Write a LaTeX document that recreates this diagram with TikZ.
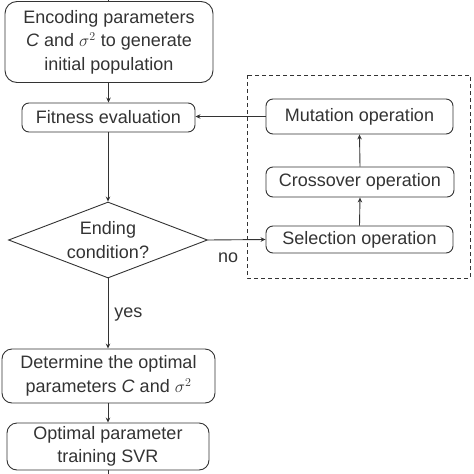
\documentclass[tikz,border=0pt]{standalone}
\usepackage{fontspec}
\setmainfont{Liberation Sans}
\usetikzlibrary{shapes.geometric,arrows.meta}
\definecolor{ink}{HTML}{333333}
\begin{document}
\begin{tikzpicture}[x=1pt,y=-1pt,
  every node/.style={font=\fontsize{18}{23.5}\selectfont, text=ink},
  box/.style={draw=ink, line width=0.9pt, rounded corners=7pt, align=center, inner sep=0pt},
  cond/.style={draw=ink, line width=0.9pt, diamond, aspect=2.6, inner sep=0pt, align=center, minimum width=199pt, minimum height=76pt},
  conn/.style={draw=ink, line width=0.9pt},
  arr/.style={conn, -{Stealth[length=5pt,width=4.5pt]}}
]
\path[use as bounding box] (0,0) rectangle (474,474);

\node[box, minimum width=208pt, minimum height=81pt, rounded corners=12pt] (init) at (109,42)
  {Encoding parameters\\ \textit{C} and $\sigma^2$ to generate\\ initial population};
\node[box, minimum width=173pt, minimum height=29pt] (fit) at (108.5,117.5) {Fitness evaluation};
\node[cond] (end) at (108,240) {Ending\\ condition?};
\node[box, minimum width=213pt, minimum height=54pt, rounded corners=10pt] (det) at (108.5,376)
  {Determine the optimal\\ parameters \textit{C} and $\sigma^2$};
\node[box, minimum width=202pt, minimum height=47pt, rounded corners=10pt] (opt) at (108,446.5)
  {Optimal parameter\\ training SVR};

\node[box, minimum width=187pt, minimum height=35pt] (mut) at (359.5,116.5) {Mutation operation};
\node[box, minimum width=188pt, minimum height=30pt] (cro) at (360,182) {Crossover operation};
\node[box, minimum width=187pt, minimum height=27pt] (sel) at (359.5,239.5) {Selection operation};

\draw[ink, line width=0.9pt, dash pattern=on 4pt off 3pt] (247,75) rectangle (470,278);

\coordinate (topstub) at (108,0);
\coordinate (botstub) at (108,474);
\draw[conn] (topstub) -- (init.north -| topstub);
\draw[conn] (opt.south -| botstub) -- (botstub);

\draw[arr] (init.south -| fit.north) -- (fit.north);
\draw[arr] (fit.south -| end.north) -- (end.north);
\draw[arr] (end.south) -- (det.north -| end.south) node[pos=0.52, right=6pt, inner sep=0pt] (yes) {yes};
\draw[arr] (end.east) -- (sel.west) node[pos=0.35, below=11pt, inner sep=2pt] (no) {no};
\draw[arr] (det.south -| opt.north) -- (opt.north);
\draw[arr] (sel.north) -- (cro.south);
\draw[arr] (cro.north) -- (mut.south);
\draw[arr] (mut.west) -- (mut.west -| fit.east);
\end{tikzpicture}
\end{document}
